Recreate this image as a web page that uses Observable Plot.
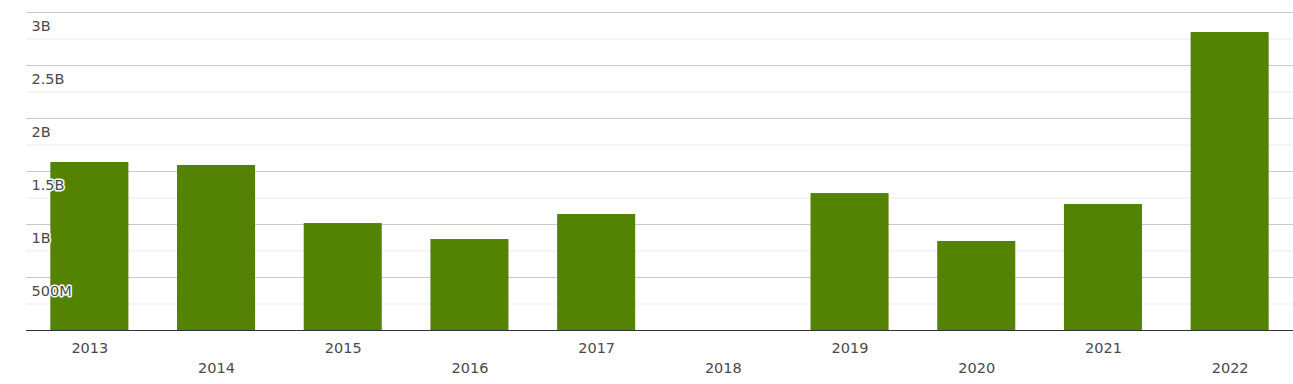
<!DOCTYPE html>
<html>
<head>
<meta charset="utf-8">
<script src="https://cdn.jsdelivr.net/npm/d3@7"></script>
<script src="https://cdn.jsdelivr.net/npm/@observablehq/plot@0.6"></script>
<style>
  html, body { margin: 0; padding: 0; background: #fff; }
  #chart svg { display: block; }
</style>
</head>
<body>
<div id="chart"></div>
<script>
const years = ["2013","2014","2015","2016","2017","2018","2019","2020","2021","2022"];
const values = [1.585e9, 1.557e9, 1.009e9, 0.858e9, 1.094e9, null, 1.292e9, 0.840e9, 1.189e9, 2.811e9];
const majorTicks = [0, 5e8, 1e9, 1.5e9, 2e9, 2.5e9, 3e9];
const minorTicks = [2.5e8, 7.5e8, 1.25e9, 1.75e9, 2.25e9, 2.75e9];
const tickLabels = ["", "500M", "1B", "1.5B", "2B", "2.5B", "3B"];

const data = years.map((y, i) => ({year: y, value: values[i]})).filter(d => d.value != null);
const labelData = majorTicks.map((v, i) => ({v, label: tickLabels[i]})).filter(d => d.label);
const rowA = years.filter((y, i) => i % 2 === 0);
const rowB = years.filter((y, i) => i % 2 === 1);

const chart = Plot.plot({
  width: 1293,
  height: 384,
  marginLeft: 26,
  marginRight: 0,
  marginTop: 12,
  marginBottom: 54,
  style: {fontFamily: "DejaVu Sans", fontSize: "14.5px", color: "#4a4a4a", background: "#fff"},
  x: {domain: years, paddingInner: 0.384, paddingOuter: 0.192, round: false, axis: null},
  y: {domain: [0, 3e9], axis: null},
  marks: [
    Plot.ruleY(minorTicks, {stroke: "#ebebeb", strokeWidth: 1}),
    Plot.ruleY(majorTicks.slice(1), {stroke: "#c8c8c8", strokeWidth: 1}),
    Plot.barY(data, {x: "year", y: "value", fill: "#548203"}),
    Plot.ruleY([0], {stroke: "#333", strokeWidth: 1}),
    Plot.text(labelData, {
      y: "v", text: "label", frameAnchor: "left", textAnchor: "start",
      dx: 5, dy: 14, fill: "#4a4a4a", stroke: "white", strokeWidth: 3, fontSize: 14.5
    }),
    Plot.axisX({ticks: rowA, tickSize: 0, tickPadding: 12, fontSize: 14.5, fill: "#4a4a4a", label: null}),
    Plot.axisX({ticks: rowB, tickSize: 0, tickPadding: 32, fontSize: 14.5, fill: "#4a4a4a", label: null})
  ]
});
document.getElementById("chart").appendChild(chart);
</script>
</body>
</html>
